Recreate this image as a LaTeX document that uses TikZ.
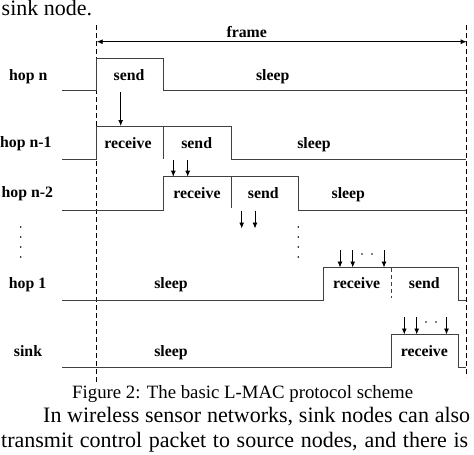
\documentclass[tikz,border=0pt]{standalone}
\usepackage{fontspec}
\setmainfont{Liberation Serif}
\usetikzlibrary{arrows.meta}
\begin{document}
\begin{tikzpicture}[x=1pt,y=-1pt,
  sig/.style={line width=1pt, draw=black!75},
  lbl/.style={font=\bfseries\fontsize{15.8}{16}\selectfont, inner sep=0pt, anchor=base},
  fr/.style={dash pattern=on 5pt off 3pt, line width=1.4pt},
  arr/.style={-{Latex[length=6pt,width=5pt]}, line width=0.9pt},
  dotc/.style={circle, fill, inner sep=0pt, minimum size=1.8pt},
  body/.style={font=\fontsize{22}{24}\selectfont, inner sep=0pt, anchor=base west}]
\useasboundingbox (0,0) rectangle (474,455);

% frame boundaries
\coordinate (fl0) at (96.7,25);
\coordinate (fl1) at (96.7,381.7);
\coordinate (fr0) at (466.7,25);
\coordinate (fr1) at (466.7,377);
\draw[fr] (fl0) -- (fl1);
\draw[fr] (fr0) -- (fr1);
\coordinate (fa) at (96.7,41.7);
\coordinate (fb) at (466.7,41.7);
\draw[{Latex[length=6pt,width=5pt]}-{Latex[length=6pt,width=5pt]}, line width=0.9pt] (fa) -- (fb);
\node[lbl] (frame) at (246.7,37) {frame};

% hop n
\draw[sig] (62,90.7) -- (96.7,90.7) -- (96.7,58.3) -- (163,58.3) -- (163,90.7) -- (466,90.7);
\node[lbl] (lhn) at (28.3,80.3) {hop n};
\node[lbl] (sn1) at (129,80.3) {send};
\node[lbl] (zn1) at (272.7,80.3) {sleep};

% hop n-1
\draw[sig] (62,159) -- (96.7,159) -- (96.7,126) -- (231.7,126) -- (231.7,159) -- (466,159);
\draw[sig] (163,126) -- (163,159);
\node[lbl] (lhn1) at (25.8,147.5) {hop n-1};
\node[lbl] (rn2) at (128,148) {receive};
\node[lbl] (sn2) at (196.7,148) {send};
\node[lbl] (zn2) at (314,148) {sleep};

% hop n-2
\draw[sig] (62,210) -- (163,210) -- (163,176.7) -- (298.3,176.7) -- (298.3,210) -- (466,210);
\draw[sig, line width=1.3pt] (231.7,176.7) -- (231.7,208);
\node[lbl] (lhn2) at (27.3,197.5) {hop n-2};
\node[lbl] (rn3) at (197,198) {receive};
\node[lbl] (sn3) at (263.3,198) {send};
\node[lbl] (zn3) at (348.3,198) {sleep};

% hop 1
\draw[sig] (62,300) -- (323.3,300) -- (323.3,267.5) -- (458.3,267.5) -- (458.3,300) -- (466,300);
\draw[sig, dash pattern=on 4pt off 3pt] (391.5,267.5) -- (391.5,298);
\node[lbl] (lh1) at (27.5,288.6) {hop 1};
\node[lbl] (zh1) at (171,288.6) {sleep};
\node[lbl] (rh1) at (356.7,288.6) {receive};
\node[lbl] (sh1) at (424.3,288.6) {send};

% sink
\draw[sig] (62,367.7) -- (391.5,367.7) -- (391.5,334.5) -- (458.3,334.5) -- (458.3,367.7) -- (466,367.7);
\node[lbl] (lsk) at (28,356.3) {sink};
\node[lbl] (zsk) at (171,356.3) {sleep};
\node[lbl] (rsk) at (424.3,356.3) {receive};

% arrows
\coordinate (a1s) at (120.7,92); \coordinate (a1e) at (120.7,126);
\draw[arr] (a1s) -- (a1e);
\coordinate (a2s) at (173.3,159.5); \coordinate (a2e) at (173.3,176.7);
\coordinate (a3s) at (187.7,159.5); \coordinate (a3e) at (187.7,176.7);
\draw[arr] (a2s) -- (a2e);
\draw[arr] (a3s) -- (a3e);
\coordinate (a4s) at (241.7,210.5); \coordinate (a4e) at (241.7,228.5);
\coordinate (a5s) at (255,210.5); \coordinate (a5e) at (255,228.5);
\draw[arr] (a4s) -- (a4e);
\draw[arr] (a5s) -- (a5e);
\coordinate (b1s) at (340,250); \coordinate (b1e) at (340,267.5);
\coordinate (b2s) at (352.7,250); \coordinate (b2e) at (352.7,267.5);
\coordinate (b3s) at (384,250); \coordinate (b3e) at (384,267.5);
\draw[arr] (b1s) -- (b1e);
\draw[arr] (b2s) -- (b2e);
\draw[arr] (b3s) -- (b3e);
\coordinate (c1s) at (404.3,317); \coordinate (c1e) at (404.3,334.5);
\coordinate (c2s) at (416.7,317); \coordinate (c2e) at (416.7,334.5);
\coordinate (c3s) at (446.5,317); \coordinate (c3e) at (446.5,334.5);
\draw[arr] (c1s) -- (c1e);
\draw[arr] (c2s) -- (c2e);
\draw[arr] (c3s) -- (c3e);

% dots
\foreach \yy [count=\i] in {227,237,247,257} {
  \node[dotc] (dl\i) at (20.7,\yy) {};
  \node[dotc] (dm\i) at (298.3,\yy) {};
}
\node[dotc] (dh1) at (362,254) {};
\node[dotc] (dh2) at (372,254) {};
\node[dotc] (ds1) at (426,322) {};
\node[dotc] (ds2) at (436,322) {};

% surrounding text
\node[body] (t0) at (1.5,16) {sink node.};
\node[inner sep=0pt, anchor=base west, font=\fontsize{18.8}{20}\selectfont] (cap) at (72,398) {Figure 2: The basic L-MAC protocol scheme};
\node[body] (t1) at (43,422) {\makebox[427pt][s]{In wireless sensor networks, sink nodes can also}};
\node[body] (t2) at (1,447) {\makebox[467pt][s]{transmit control packet to source nodes, and there is}};
\end{tikzpicture}
\end{document}
